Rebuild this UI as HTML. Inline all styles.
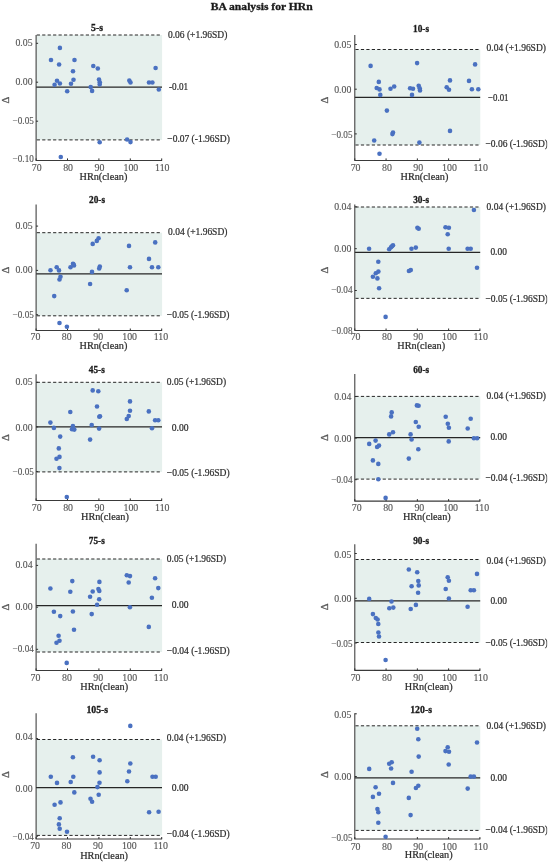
<!DOCTYPE html>
<html lang="en"><head><meta charset="utf-8"><title>BA analysis for HRn</title>
<style>html,body{margin:0;padding:0;background:#fff;overflow:hidden}svg{display:block;font-family:'Liberation Serif', 'DejaVu Serif', serif}</style></head><body>
<svg width="550" height="862" viewBox="0 0 550 862">
<rect width="550" height="862" fill="#ffffff"/>
<defs><clipPath id="rc"><rect x="0" y="0" width="547.2" height="862"/></clipPath></defs>
<text x="261.7" y="10.4" font-size="11.3" fill="#1a1a1a" stroke="#1a1a1a" stroke-width="0.3" text-anchor="middle" font-weight="bold" textLength="102" lengthAdjust="spacingAndGlyphs">BA analysis for HRn</text>
<g>
<rect x="36.1" y="35" width="126" height="104.9" fill="#e6f0ed"/>
<line x1="36.74" y1="35" x2="161.7" y2="35" stroke="#262626" stroke-width="1" stroke-dasharray="3.2 2.25"/>
<line x1="36.74" y1="139.9" x2="161.7" y2="139.9" stroke="#262626" stroke-width="1" stroke-dasharray="3.2 2.25"/>
<line x1="36.1" y1="87" x2="162" y2="87" stroke="#262626" stroke-width="1.25"/>
<path d="M36.1 35V160.4H162.1" fill="none" stroke="#3a3a3a" stroke-width="1.05"/>
<path d="M36.1 43.3h2M36.1 82.2h2M36.1 121.2h2M36.1 160.4v-2M67.5 160.4v-2M98.9 160.4v-2M130.3 160.4v-2M161.7 160.4v-2" fill="none" stroke="#2e2e2e" stroke-width="1"/>
<g fill="#4a71c1">
<circle cx="59.9" cy="47.9" r="2.3"/>
<circle cx="51" cy="60" r="2.3"/>
<circle cx="74.5" cy="60" r="2.3"/>
<circle cx="59.1" cy="64.5" r="2.3"/>
<circle cx="93.3" cy="66" r="2.3"/>
<circle cx="97.8" cy="68.5" r="2.3"/>
<circle cx="73" cy="71.2" r="2.3"/>
<circle cx="73.5" cy="79.7" r="2.3"/>
<circle cx="57" cy="80.7" r="2.3"/>
<circle cx="99" cy="79.6" r="2.3"/>
<circle cx="54.6" cy="84.8" r="2.3"/>
<circle cx="59.9" cy="83.5" r="2.3"/>
<circle cx="71" cy="83.8" r="2.3"/>
<circle cx="99.7" cy="84.4" r="2.3"/>
<circle cx="99.8" cy="82.2" r="2.3"/>
<circle cx="90.7" cy="87" r="2.3"/>
<circle cx="67.2" cy="91.2" r="2.3"/>
<circle cx="92.1" cy="90.9" r="2.3"/>
<circle cx="155.6" cy="68" r="2.3"/>
<circle cx="129.3" cy="80.6" r="2.3"/>
<circle cx="130.5" cy="82.5" r="2.3"/>
<circle cx="149" cy="82.5" r="2.3"/>
<circle cx="152.4" cy="82.5" r="2.3"/>
<circle cx="158.8" cy="89.5" r="2.3"/>
<circle cx="60.8" cy="157" r="2.3"/>
<circle cx="99.7" cy="142.3" r="2.3"/>
<circle cx="127.1" cy="139.5" r="2.3"/>
<circle cx="130.5" cy="142.1" r="2.3"/>
</g>
<text x="32.6" y="46.1" font-size="9.8" fill="#555555" stroke="#555555" stroke-width="0.12" text-anchor="end">0.05</text>
<text x="32.6" y="85.2" font-size="9.8" fill="#555555" stroke="#555555" stroke-width="0.12" text-anchor="end">0.00</text>
<text x="33.8" y="124.1" font-size="9.8" fill="#555555" stroke="#555555" stroke-width="0.12" text-anchor="end" textLength="21.2" lengthAdjust="spacingAndGlyphs">−0.05</text>
<text x="33.8" y="162.2" font-size="9.8" fill="#555555" stroke="#555555" stroke-width="0.12" text-anchor="end" textLength="21.2" lengthAdjust="spacingAndGlyphs">−0.10</text>
<text x="36.7" y="171.1" font-size="9.9" fill="#555555" stroke="#555555" stroke-width="0.12" text-anchor="middle">70</text>
<text x="68.1" y="171.1" font-size="9.9" fill="#555555" stroke="#555555" stroke-width="0.12" text-anchor="middle">80</text>
<text x="99.5" y="171.1" font-size="9.9" fill="#555555" stroke="#555555" stroke-width="0.12" text-anchor="middle">90</text>
<text x="130.9" y="171.1" font-size="9.9" fill="#555555" stroke="#555555" stroke-width="0.12" text-anchor="middle">100</text>
<text x="162.3" y="171.1" font-size="9.9" fill="#555555" stroke="#555555" stroke-width="0.12" text-anchor="middle">110</text>
<text x="79.5" y="180.2" font-size="10" fill="#2e2e2e" stroke="#2e2e2e" stroke-width="0.22" textLength="47.8" lengthAdjust="spacingAndGlyphs">HRn(clean)</text>
<text transform="translate(9.1 100) rotate(-90)" font-size="10.6" fill="#555555" stroke="#555555" stroke-width="0.3" text-anchor="middle">Δ</text>
<text x="97.1" y="31.4" font-size="10.2" fill="#1a1a1a" stroke="#1a1a1a" stroke-width="0.3" text-anchor="middle" font-weight="bold" textLength="12" lengthAdjust="spacingAndGlyphs">5-s</text>
<text x="168" y="38.1" font-size="10" fill="#2e2e2e" stroke="#2e2e2e" stroke-width="0.22" textLength="59.3" lengthAdjust="spacingAndGlyphs">0.06 (+1.96SD)</text>
<text x="169" y="90" font-size="10" fill="#2e2e2e" stroke="#2e2e2e" stroke-width="0.22" textLength="19.1" lengthAdjust="spacingAndGlyphs">-0.01</text>
<text x="167.3" y="142.2" font-size="10" fill="#2e2e2e" stroke="#2e2e2e" stroke-width="0.22" textLength="62.5" lengthAdjust="spacingAndGlyphs">−0.07 (-1.96SD)</text>
</g>
<g>
<rect x="354.8" y="49.5" width="125.5" height="95.5" fill="#e6f0ed"/>
<line x1="355.44" y1="49.5" x2="479.9" y2="49.5" stroke="#262626" stroke-width="1" stroke-dasharray="3.2 2.25"/>
<line x1="355.44" y1="145" x2="479.9" y2="145" stroke="#262626" stroke-width="1" stroke-dasharray="3.2 2.25"/>
<line x1="354.8" y1="97.3" x2="480.2" y2="97.3" stroke="#262626" stroke-width="1.25"/>
<path d="M354.8 35.1V160.4H480.3" fill="none" stroke="#3a3a3a" stroke-width="1.05"/>
<path d="M354.8 44.5h2M354.8 89.2h2M354.8 133.9h2M354.8 160.4v-2M386.07 160.4v-2M417.35 160.4v-2M448.62 160.4v-2M479.9 160.4v-2" fill="none" stroke="#2e2e2e" stroke-width="1"/>
<g fill="#4a71c1">
<circle cx="370.6" cy="65.9" r="2.3"/>
<circle cx="417.1" cy="63.1" r="2.3"/>
<circle cx="378.8" cy="81.9" r="2.3"/>
<circle cx="394.2" cy="86.5" r="2.3"/>
<circle cx="376.7" cy="88" r="2.3"/>
<circle cx="379.5" cy="89.4" r="2.3"/>
<circle cx="390.5" cy="88.8" r="2.3"/>
<circle cx="410.1" cy="88.2" r="2.3"/>
<circle cx="413" cy="88.8" r="2.3"/>
<circle cx="418.7" cy="85.7" r="2.3"/>
<circle cx="419.7" cy="88.2" r="2.3"/>
<circle cx="420" cy="90.4" r="2.3"/>
<circle cx="380.3" cy="94.9" r="2.3"/>
<circle cx="412" cy="94.9" r="2.3"/>
<circle cx="475.1" cy="64.4" r="2.3"/>
<circle cx="450" cy="80.4" r="2.3"/>
<circle cx="469" cy="80.9" r="2.3"/>
<circle cx="446.7" cy="87.3" r="2.3"/>
<circle cx="449" cy="89.8" r="2.3"/>
<circle cx="471.9" cy="89.2" r="2.3"/>
<circle cx="478.3" cy="89.2" r="2.3"/>
<circle cx="386.9" cy="110.6" r="2.3"/>
<circle cx="393" cy="132.5" r="2.3"/>
<circle cx="392.4" cy="134.1" r="2.3"/>
<circle cx="374.2" cy="140.5" r="2.3"/>
<circle cx="379.5" cy="153.7" r="2.3"/>
<circle cx="419.4" cy="142.6" r="2.3"/>
<circle cx="450" cy="130.9" r="2.3"/>
</g>
<text x="351.3" y="48.3" font-size="9.8" fill="#555555" stroke="#555555" stroke-width="0.12" text-anchor="end">0.05</text>
<text x="351.3" y="92.5" font-size="9.8" fill="#555555" stroke="#555555" stroke-width="0.12" text-anchor="end">0.00</text>
<text x="352.5" y="137.9" font-size="9.8" fill="#555555" stroke="#555555" stroke-width="0.12" text-anchor="end" textLength="21.2" lengthAdjust="spacingAndGlyphs">−0.05</text>
<text x="355.6" y="171.1" font-size="9.9" fill="#555555" stroke="#555555" stroke-width="0.12" text-anchor="middle">70</text>
<text x="386.88" y="171.1" font-size="9.9" fill="#555555" stroke="#555555" stroke-width="0.12" text-anchor="middle">80</text>
<text x="418.15" y="171.1" font-size="9.9" fill="#555555" stroke="#555555" stroke-width="0.12" text-anchor="middle">90</text>
<text x="449.43" y="171.1" font-size="9.9" fill="#555555" stroke="#555555" stroke-width="0.12" text-anchor="middle">100</text>
<text x="480.7" y="171.1" font-size="9.9" fill="#555555" stroke="#555555" stroke-width="0.12" text-anchor="middle">110</text>
<text x="400.5" y="180.2" font-size="10" fill="#2e2e2e" stroke="#2e2e2e" stroke-width="0.22" textLength="47.8" lengthAdjust="spacingAndGlyphs">HRn(clean)</text>
<text transform="translate(327.8 100) rotate(-90)" font-size="10.6" fill="#555555" stroke="#555555" stroke-width="0.3" text-anchor="middle">Δ</text>
<text x="421" y="32.2" font-size="10.2" fill="#1a1a1a" stroke="#1a1a1a" stroke-width="0.3" text-anchor="middle" font-weight="bold" textLength="16" lengthAdjust="spacingAndGlyphs">10-s</text>
<text x="486.6" y="51.4" font-size="10" fill="#2e2e2e" stroke="#2e2e2e" stroke-width="0.22" textLength="59.3" lengthAdjust="spacingAndGlyphs" clip-path="url(#rc)">0.04 (+1.96SD)</text>
<text x="488.1" y="100.6" font-size="10" fill="#2e2e2e" stroke="#2e2e2e" stroke-width="0.22" textLength="20.4" lengthAdjust="spacingAndGlyphs" clip-path="url(#rc)">−0.01</text>
<text x="485.5" y="146.9" font-size="10" fill="#2e2e2e" stroke="#2e2e2e" stroke-width="0.22" textLength="62.5" lengthAdjust="spacingAndGlyphs" clip-path="url(#rc)">−0.06 (-1.96SD)</text>
</g>
<g>
<rect x="36.1" y="232.7" width="126" height="83.1" fill="#e6f0ed"/>
<line x1="36.74" y1="232.7" x2="161.7" y2="232.7" stroke="#262626" stroke-width="1" stroke-dasharray="3.2 2.25"/>
<line x1="36.74" y1="315.8" x2="161.7" y2="315.8" stroke="#262626" stroke-width="1" stroke-dasharray="3.2 2.25"/>
<line x1="36.1" y1="273.9" x2="162" y2="273.9" stroke="#262626" stroke-width="1.25"/>
<path d="M36.1 204.5V330.5H162.1" fill="none" stroke="#3a3a3a" stroke-width="1.05"/>
<path d="M36.1 226.1h2M36.1 270.4h2M36.1 314.7h2M36.1 330.5v-2M67.5 330.5v-2M98.9 330.5v-2M130.3 330.5v-2M161.7 330.5v-2" fill="none" stroke="#2e2e2e" stroke-width="1"/>
<g fill="#4a71c1">
<circle cx="92.7" cy="243.9" r="2.3"/>
<circle cx="96.8" cy="240.9" r="2.3"/>
<circle cx="98.6" cy="238.3" r="2.3"/>
<circle cx="73" cy="263.8" r="2.3"/>
<circle cx="74" cy="265.5" r="2.3"/>
<circle cx="70.5" cy="267.2" r="2.3"/>
<circle cx="56.7" cy="267.2" r="2.3"/>
<circle cx="50.5" cy="270.3" r="2.3"/>
<circle cx="59" cy="270.4" r="2.3"/>
<circle cx="60.5" cy="276.7" r="2.3"/>
<circle cx="59.5" cy="279.5" r="2.3"/>
<circle cx="54.2" cy="296.1" r="2.3"/>
<circle cx="92" cy="271.9" r="2.3"/>
<circle cx="90.1" cy="284" r="2.3"/>
<circle cx="99.8" cy="266.5" r="2.3"/>
<circle cx="99.2" cy="268.5" r="2.3"/>
<circle cx="129" cy="245.9" r="2.3"/>
<circle cx="155.2" cy="242.4" r="2.3"/>
<circle cx="149" cy="258.9" r="2.3"/>
<circle cx="130" cy="267.2" r="2.3"/>
<circle cx="152" cy="267.2" r="2.3"/>
<circle cx="158.3" cy="267.2" r="2.3"/>
<circle cx="59.5" cy="323" r="2.3"/>
<circle cx="66.9" cy="326.8" r="2.3"/>
<circle cx="126.7" cy="290.3" r="2.3"/>
<circle cx="73.6" cy="264.6" r="2.3"/>
</g>
<text x="32.6" y="229.1" font-size="9.8" fill="#555555" stroke="#555555" stroke-width="0.12" text-anchor="end">0.05</text>
<text x="32.6" y="273.3" font-size="9.8" fill="#555555" stroke="#555555" stroke-width="0.12" text-anchor="end">0.00</text>
<text x="33.8" y="317.6" font-size="9.8" fill="#555555" stroke="#555555" stroke-width="0.12" text-anchor="end" textLength="21.2" lengthAdjust="spacingAndGlyphs">−0.05</text>
<text x="35.4" y="340.2" font-size="9.9" fill="#555555" stroke="#555555" stroke-width="0.12" text-anchor="middle">70</text>
<text x="66.8" y="340.2" font-size="9.9" fill="#555555" stroke="#555555" stroke-width="0.12" text-anchor="middle">80</text>
<text x="98.2" y="340.2" font-size="9.9" fill="#555555" stroke="#555555" stroke-width="0.12" text-anchor="middle">90</text>
<text x="129.6" y="340.2" font-size="9.9" fill="#555555" stroke="#555555" stroke-width="0.12" text-anchor="middle">100</text>
<text x="161" y="340.2" font-size="9.9" fill="#555555" stroke="#555555" stroke-width="0.12" text-anchor="middle">110</text>
<text x="79.5" y="349.1" font-size="10" fill="#2e2e2e" stroke="#2e2e2e" stroke-width="0.22" textLength="47.8" lengthAdjust="spacingAndGlyphs">HRn(clean)</text>
<text transform="translate(9.1 270) rotate(-90)" font-size="10.6" fill="#555555" stroke="#555555" stroke-width="0.3" text-anchor="middle">Δ</text>
<text x="97" y="203.35" font-size="10.2" fill="#1a1a1a" stroke="#1a1a1a" stroke-width="0.3" text-anchor="middle" font-weight="bold" textLength="16" lengthAdjust="spacingAndGlyphs">20-s</text>
<text x="168.1" y="234.6" font-size="10" fill="#2e2e2e" stroke="#2e2e2e" stroke-width="0.22" textLength="59.3" lengthAdjust="spacingAndGlyphs">0.04 (+1.96SD)</text>
<text x="166.8" y="317.7" font-size="10" fill="#2e2e2e" stroke="#2e2e2e" stroke-width="0.22" textLength="62.5" lengthAdjust="spacingAndGlyphs">−0.05 (-1.96SD)</text>
</g>
<g>
<rect x="354.8" y="207" width="125.5" height="91.35" fill="#e6f0ed"/>
<line x1="355.44" y1="207" x2="479.9" y2="207" stroke="#262626" stroke-width="1" stroke-dasharray="3.2 2.25"/>
<line x1="355.44" y1="298.35" x2="479.9" y2="298.35" stroke="#262626" stroke-width="1" stroke-dasharray="3.2 2.25"/>
<line x1="354.8" y1="252.4" x2="480.2" y2="252.4" stroke="#262626" stroke-width="1.25"/>
<path d="M354.8 204.5V330.5H480.3" fill="none" stroke="#3a3a3a" stroke-width="1.05"/>
<path d="M354.8 206.8h2M354.8 248.7h2M354.8 290.5h2M354.8 330.5v-2M386.07 330.5v-2M417.35 330.5v-2M448.62 330.5v-2M479.9 330.5v-2" fill="none" stroke="#2e2e2e" stroke-width="1"/>
<g fill="#4a71c1">
<circle cx="369.1" cy="248.7" r="2.3"/>
<circle cx="389.2" cy="249.3" r="2.3"/>
<circle cx="391" cy="247.2" r="2.3"/>
<circle cx="393" cy="245.3" r="2.3"/>
<circle cx="411.5" cy="248.7" r="2.3"/>
<circle cx="415.8" cy="247.6" r="2.3"/>
<circle cx="417.4" cy="227.8" r="2.3"/>
<circle cx="418.7" cy="228.7" r="2.3"/>
<circle cx="378.3" cy="261.8" r="2.3"/>
<circle cx="473.9" cy="210" r="2.3"/>
<circle cx="445.5" cy="227.2" r="2.3"/>
<circle cx="448.9" cy="227.8" r="2.3"/>
<circle cx="447.7" cy="234.3" r="2.3"/>
<circle cx="448.7" cy="248.7" r="2.3"/>
<circle cx="467.6" cy="248.7" r="2.3"/>
<circle cx="470.7" cy="248.7" r="2.3"/>
<circle cx="372.9" cy="276.7" r="2.3"/>
<circle cx="375.8" cy="273.3" r="2.3"/>
<circle cx="378.4" cy="271.6" r="2.3"/>
<circle cx="377.4" cy="278.4" r="2.3"/>
<circle cx="379.1" cy="288.2" r="2.3"/>
<circle cx="385.6" cy="316.9" r="2.3"/>
<circle cx="408.9" cy="271" r="2.3"/>
<circle cx="410.8" cy="270.1" r="2.3"/>
<circle cx="477" cy="267.8" r="2.3"/>
<circle cx="392" cy="246.2" r="2.3"/>
</g>
<text x="351.3" y="209.9" font-size="9.8" fill="#555555" stroke="#555555" stroke-width="0.12" text-anchor="end">0.04</text>
<text x="351.3" y="252.4" font-size="9.8" fill="#555555" stroke="#555555" stroke-width="0.12" text-anchor="end">0.00</text>
<text x="352.5" y="293.4" font-size="9.8" fill="#555555" stroke="#555555" stroke-width="0.12" text-anchor="end" textLength="21.2" lengthAdjust="spacingAndGlyphs">−0.04</text>
<text x="352.5" y="333.7" font-size="9.8" fill="#555555" stroke="#555555" stroke-width="0.12" text-anchor="end" textLength="21.2" lengthAdjust="spacingAndGlyphs">−0.08</text>
<text x="355.6" y="340.2" font-size="9.9" fill="#555555" stroke="#555555" stroke-width="0.12" text-anchor="middle">70</text>
<text x="386.88" y="340.2" font-size="9.9" fill="#555555" stroke="#555555" stroke-width="0.12" text-anchor="middle">80</text>
<text x="418.15" y="340.2" font-size="9.9" fill="#555555" stroke="#555555" stroke-width="0.12" text-anchor="middle">90</text>
<text x="449.43" y="340.2" font-size="9.9" fill="#555555" stroke="#555555" stroke-width="0.12" text-anchor="middle">100</text>
<text x="480.7" y="340.2" font-size="9.9" fill="#555555" stroke="#555555" stroke-width="0.12" text-anchor="middle">110</text>
<text x="397.3" y="349" font-size="10" fill="#2e2e2e" stroke="#2e2e2e" stroke-width="0.22" textLength="47.8" lengthAdjust="spacingAndGlyphs">HRn(clean)</text>
<text transform="translate(327.8 270) rotate(-90)" font-size="10.6" fill="#555555" stroke="#555555" stroke-width="0.3" text-anchor="middle">Δ</text>
<text x="421.2" y="203.35" font-size="10.2" fill="#1a1a1a" stroke="#1a1a1a" stroke-width="0.3" text-anchor="middle" font-weight="bold" textLength="16" lengthAdjust="spacingAndGlyphs">30-s</text>
<text x="486.6" y="210.1" font-size="10" fill="#2e2e2e" stroke="#2e2e2e" stroke-width="0.22" textLength="59.3" lengthAdjust="spacingAndGlyphs" clip-path="url(#rc)">0.04 (+1.96SD)</text>
<text x="490.4" y="254.6" font-size="10" fill="#2e2e2e" stroke="#2e2e2e" stroke-width="0.22" textLength="16.5" lengthAdjust="spacingAndGlyphs" clip-path="url(#rc)">0.00</text>
<text x="485.5" y="302.4" font-size="10" fill="#2e2e2e" stroke="#2e2e2e" stroke-width="0.22" textLength="62.5" lengthAdjust="spacingAndGlyphs" clip-path="url(#rc)">−0.05 (-1.96SD)</text>
</g>
<g>
<rect x="36.1" y="382.3" width="126" height="89.6" fill="#e6f0ed"/>
<line x1="36.74" y1="382.3" x2="161.7" y2="382.3" stroke="#262626" stroke-width="1" stroke-dasharray="3.2 2.25"/>
<line x1="36.74" y1="471.9" x2="161.7" y2="471.9" stroke="#262626" stroke-width="1" stroke-dasharray="3.2 2.25"/>
<line x1="36.1" y1="426.9" x2="162" y2="426.9" stroke="#262626" stroke-width="1.25"/>
<path d="M36.1 374.2V500.4H162.1" fill="none" stroke="#3a3a3a" stroke-width="1.05"/>
<path d="M36.1 382.3h2M36.1 426.9h2M36.1 471.6h2M36.1 500.4v-2M67.5 500.4v-2M98.9 500.4v-2M130.3 500.4v-2M161.7 500.4v-2" fill="none" stroke="#2e2e2e" stroke-width="1"/>
<g fill="#4a71c1">
<circle cx="50.4" cy="422.6" r="2.3"/>
<circle cx="53.9" cy="427.9" r="2.3"/>
<circle cx="60.2" cy="436.6" r="2.3"/>
<circle cx="70.3" cy="412" r="2.3"/>
<circle cx="72.9" cy="426" r="2.3"/>
<circle cx="72" cy="429.2" r="2.3"/>
<circle cx="74.3" cy="429.6" r="2.3"/>
<circle cx="92.7" cy="390.4" r="2.3"/>
<circle cx="98.3" cy="391.3" r="2.3"/>
<circle cx="97" cy="406.5" r="2.3"/>
<circle cx="99.3" cy="416.7" r="2.3"/>
<circle cx="100" cy="416.2" r="2.3"/>
<circle cx="91.7" cy="425" r="2.3"/>
<circle cx="99.1" cy="428.6" r="2.3"/>
<circle cx="90.1" cy="439.6" r="2.3"/>
<circle cx="130" cy="401.4" r="2.3"/>
<circle cx="130" cy="410.7" r="2.3"/>
<circle cx="128.7" cy="416.1" r="2.3"/>
<circle cx="126.8" cy="419" r="2.3"/>
<circle cx="148.8" cy="411.4" r="2.3"/>
<circle cx="155.1" cy="420.3" r="2.3"/>
<circle cx="158.3" cy="420.3" r="2.3"/>
<circle cx="152" cy="428.3" r="2.3"/>
<circle cx="58.8" cy="448.4" r="2.3"/>
<circle cx="59.5" cy="456.9" r="2.3"/>
<circle cx="56.5" cy="458.8" r="2.3"/>
<circle cx="59.4" cy="468.1" r="2.3"/>
<circle cx="66.8" cy="497" r="2.3"/>
</g>
<text x="32.6" y="385" font-size="9.8" fill="#555555" stroke="#555555" stroke-width="0.12" text-anchor="end">0.05</text>
<text x="32.6" y="430.8" font-size="9.8" fill="#555555" stroke="#555555" stroke-width="0.12" text-anchor="end">0.00</text>
<text x="33.8" y="475.1" font-size="9.8" fill="#555555" stroke="#555555" stroke-width="0.12" text-anchor="end" textLength="21.2" lengthAdjust="spacingAndGlyphs">−0.05</text>
<text x="36.7" y="511.3" font-size="9.9" fill="#555555" stroke="#555555" stroke-width="0.12" text-anchor="middle">70</text>
<text x="68.1" y="511.3" font-size="9.9" fill="#555555" stroke="#555555" stroke-width="0.12" text-anchor="middle">80</text>
<text x="99.5" y="511.3" font-size="9.9" fill="#555555" stroke="#555555" stroke-width="0.12" text-anchor="middle">90</text>
<text x="130.9" y="511.3" font-size="9.9" fill="#555555" stroke="#555555" stroke-width="0.12" text-anchor="middle">100</text>
<text x="162.3" y="511.3" font-size="9.9" fill="#555555" stroke="#555555" stroke-width="0.12" text-anchor="middle">110</text>
<text x="81" y="519.8" font-size="10" fill="#2e2e2e" stroke="#2e2e2e" stroke-width="0.22" textLength="47.8" lengthAdjust="spacingAndGlyphs">HRn(clean)</text>
<text transform="translate(9.1 437.7) rotate(-90)" font-size="10.6" fill="#555555" stroke="#555555" stroke-width="0.3" text-anchor="middle">Δ</text>
<text x="96.8" y="373.4" font-size="10.2" fill="#1a1a1a" stroke="#1a1a1a" stroke-width="0.3" text-anchor="middle" font-weight="bold" textLength="16" lengthAdjust="spacingAndGlyphs">45-s</text>
<text x="166.8" y="384.5" font-size="10" fill="#2e2e2e" stroke="#2e2e2e" stroke-width="0.22" textLength="59.3" lengthAdjust="spacingAndGlyphs">0.05 (+1.96SD)</text>
<text x="171.7" y="430.5" font-size="10" fill="#2e2e2e" stroke="#2e2e2e" stroke-width="0.22" textLength="16.8" lengthAdjust="spacingAndGlyphs">0.00</text>
<text x="166.8" y="476.3" font-size="10" fill="#2e2e2e" stroke="#2e2e2e" stroke-width="0.22" textLength="62.9" lengthAdjust="spacingAndGlyphs">−0.05 (-1.96SD)</text>
</g>
<g>
<rect x="354.8" y="396.4" width="125.5" height="82.7" fill="#e6f0ed"/>
<line x1="355.44" y1="396.4" x2="479.9" y2="396.4" stroke="#262626" stroke-width="1" stroke-dasharray="3.2 2.25"/>
<line x1="355.44" y1="479.1" x2="479.9" y2="479.1" stroke="#262626" stroke-width="1" stroke-dasharray="3.2 2.25"/>
<line x1="354.8" y1="437.65" x2="480.2" y2="437.65" stroke="#262626" stroke-width="1.25"/>
<path d="M354.8 374.05V501.1H480.3" fill="none" stroke="#3a3a3a" stroke-width="1.05"/>
<path d="M354.8 396.5h2M354.8 438.1h2M354.8 479.7h2M354.8 501.1v-2M386.07 501.1v-2M417.35 501.1v-2M448.62 501.1v-2M479.9 501.1v-2" fill="none" stroke="#2e2e2e" stroke-width="1"/>
<g fill="#4a71c1">
<circle cx="391.7" cy="412.4" r="2.3"/>
<circle cx="391.1" cy="416.4" r="2.3"/>
<circle cx="416.9" cy="405.4" r="2.3"/>
<circle cx="418.6" cy="405.7" r="2.3"/>
<circle cx="415.8" cy="422" r="2.3"/>
<circle cx="418.7" cy="426.7" r="2.3"/>
<circle cx="393" cy="432.3" r="2.3"/>
<circle cx="389.2" cy="434.4" r="2.3"/>
<circle cx="410.6" cy="434.4" r="2.3"/>
<circle cx="411.6" cy="439.5" r="2.3"/>
<circle cx="375.6" cy="440.6" r="2.3"/>
<circle cx="369.2" cy="443.9" r="2.3"/>
<circle cx="379" cy="445.6" r="2.3"/>
<circle cx="377.1" cy="447" r="2.3"/>
<circle cx="418.3" cy="449.3" r="2.3"/>
<circle cx="445.7" cy="416.8" r="2.3"/>
<circle cx="447.8" cy="423.8" r="2.3"/>
<circle cx="448.9" cy="427.8" r="2.3"/>
<circle cx="448.7" cy="441.4" r="2.3"/>
<circle cx="470.7" cy="418.7" r="2.3"/>
<circle cx="467.7" cy="428.5" r="2.3"/>
<circle cx="473.9" cy="438.2" r="2.3"/>
<circle cx="477.1" cy="438.2" r="2.3"/>
<circle cx="372.9" cy="460.4" r="2.3"/>
<circle cx="378.3" cy="463.9" r="2.3"/>
<circle cx="408.8" cy="458.6" r="2.3"/>
<circle cx="378.3" cy="479.2" r="2.3"/>
<circle cx="385.6" cy="497.9" r="2.3"/>
</g>
<text x="351.3" y="399.5" font-size="9.8" fill="#555555" stroke="#555555" stroke-width="0.12" text-anchor="end">0.04</text>
<text x="351.3" y="442.2" font-size="9.8" fill="#555555" stroke="#555555" stroke-width="0.12" text-anchor="end">0.00</text>
<text x="352.5" y="483.4" font-size="9.8" fill="#555555" stroke="#555555" stroke-width="0.12" text-anchor="end" textLength="21.2" lengthAdjust="spacingAndGlyphs">−0.04</text>
<text x="356.8" y="510.9" font-size="9.9" fill="#555555" stroke="#555555" stroke-width="0.12" text-anchor="middle">70</text>
<text x="388.07" y="510.9" font-size="9.9" fill="#555555" stroke="#555555" stroke-width="0.12" text-anchor="middle">80</text>
<text x="419.35" y="510.9" font-size="9.9" fill="#555555" stroke="#555555" stroke-width="0.12" text-anchor="middle">90</text>
<text x="450.62" y="510.9" font-size="9.9" fill="#555555" stroke="#555555" stroke-width="0.12" text-anchor="middle">100</text>
<text x="481.9" y="510.9" font-size="9.9" fill="#555555" stroke="#555555" stroke-width="0.12" text-anchor="middle">110</text>
<text x="402.9" y="519.65" font-size="10" fill="#2e2e2e" stroke="#2e2e2e" stroke-width="0.22" textLength="47.8" lengthAdjust="spacingAndGlyphs">HRn(clean)</text>
<text transform="translate(327.8 437.7) rotate(-90)" font-size="10.6" fill="#555555" stroke="#555555" stroke-width="0.3" text-anchor="middle">Δ</text>
<text x="421.2" y="373.4" font-size="10.2" fill="#1a1a1a" stroke="#1a1a1a" stroke-width="0.3" text-anchor="middle" font-weight="bold" textLength="16" lengthAdjust="spacingAndGlyphs">60-s</text>
<text x="486.6" y="399.3" font-size="10" fill="#2e2e2e" stroke="#2e2e2e" stroke-width="0.22" textLength="59.3" lengthAdjust="spacingAndGlyphs" clip-path="url(#rc)">0.04 (+1.96SD)</text>
<text x="490.4" y="439.6" font-size="10" fill="#2e2e2e" stroke="#2e2e2e" stroke-width="0.22" textLength="16.5" lengthAdjust="spacingAndGlyphs" clip-path="url(#rc)">0.00</text>
<text x="485.5" y="480.8" font-size="10" fill="#2e2e2e" stroke="#2e2e2e" stroke-width="0.22" textLength="62.5" lengthAdjust="spacingAndGlyphs" clip-path="url(#rc)">−0.04 (-1.96SD)</text>
</g>
<g>
<rect x="36.1" y="559" width="126" height="93" fill="#e6f0ed"/>
<line x1="36.74" y1="559" x2="161.7" y2="559" stroke="#262626" stroke-width="1" stroke-dasharray="3.2 2.25"/>
<line x1="36.74" y1="652" x2="161.7" y2="652" stroke="#262626" stroke-width="1" stroke-dasharray="3.2 2.25"/>
<line x1="36.1" y1="605.5" x2="162" y2="605.5" stroke="#262626" stroke-width="1.25"/>
<path d="M36.1 543.8V670.4H162.1" fill="none" stroke="#3a3a3a" stroke-width="1.05"/>
<path d="M36.1 565.4h2M36.1 607.2h2M36.1 649.3h2M36.1 670.4v-2M67.5 670.4v-2M98.9 670.4v-2M130.3 670.4v-2M161.7 670.4v-2" fill="none" stroke="#2e2e2e" stroke-width="1"/>
<g fill="#4a71c1">
<circle cx="50.4" cy="588.5" r="2.3"/>
<circle cx="72.3" cy="581.1" r="2.3"/>
<circle cx="70.3" cy="591.7" r="2.3"/>
<circle cx="92.7" cy="591.5" r="2.3"/>
<circle cx="90.1" cy="596.8" r="2.3"/>
<circle cx="99.4" cy="581.9" r="2.3"/>
<circle cx="98.4" cy="589" r="2.3"/>
<circle cx="99.3" cy="590.9" r="2.3"/>
<circle cx="99.2" cy="599.2" r="2.3"/>
<circle cx="97.1" cy="604.8" r="2.3"/>
<circle cx="126.8" cy="575.3" r="2.3"/>
<circle cx="130" cy="576.1" r="2.3"/>
<circle cx="128.7" cy="582.5" r="2.3"/>
<circle cx="155.1" cy="578.2" r="2.3"/>
<circle cx="158.3" cy="588.1" r="2.3"/>
<circle cx="151.9" cy="597.7" r="2.3"/>
<circle cx="129.9" cy="607.3" r="2.3"/>
<circle cx="53.9" cy="611.7" r="2.3"/>
<circle cx="60.2" cy="616.1" r="2.3"/>
<circle cx="72.9" cy="611.5" r="2.3"/>
<circle cx="91.7" cy="614.1" r="2.3"/>
<circle cx="74" cy="629.7" r="2.3"/>
<circle cx="58.6" cy="635.7" r="2.3"/>
<circle cx="59.5" cy="640.8" r="2.3"/>
<circle cx="56.5" cy="642.8" r="2.3"/>
<circle cx="66.7" cy="662.9" r="2.3"/>
<circle cx="148.8" cy="626.9" r="2.3"/>
</g>
<text x="32.6" y="568.4" font-size="9.8" fill="#555555" stroke="#555555" stroke-width="0.12" text-anchor="end">0.04</text>
<text x="32.6" y="610.3" font-size="9.8" fill="#555555" stroke="#555555" stroke-width="0.12" text-anchor="end">0.00</text>
<text x="33.8" y="652.1" font-size="9.8" fill="#555555" stroke="#555555" stroke-width="0.12" text-anchor="end" textLength="21.2" lengthAdjust="spacingAndGlyphs">−0.04</text>
<text x="35.5" y="680.8" font-size="9.9" fill="#555555" stroke="#555555" stroke-width="0.12" text-anchor="middle">70</text>
<text x="66.9" y="680.8" font-size="9.9" fill="#555555" stroke="#555555" stroke-width="0.12" text-anchor="middle">80</text>
<text x="98.3" y="680.8" font-size="9.9" fill="#555555" stroke="#555555" stroke-width="0.12" text-anchor="middle">90</text>
<text x="129.7" y="680.8" font-size="9.9" fill="#555555" stroke="#555555" stroke-width="0.12" text-anchor="middle">100</text>
<text x="161.1" y="680.8" font-size="9.9" fill="#555555" stroke="#555555" stroke-width="0.12" text-anchor="middle">110</text>
<text x="80.3" y="689.6" font-size="10" fill="#2e2e2e" stroke="#2e2e2e" stroke-width="0.22" textLength="47.8" lengthAdjust="spacingAndGlyphs">HRn(clean)</text>
<text transform="translate(9.1 607) rotate(-90)" font-size="10.6" fill="#555555" stroke="#555555" stroke-width="0.3" text-anchor="middle">Δ</text>
<text x="96.8" y="543.6" font-size="10.2" fill="#1a1a1a" stroke="#1a1a1a" stroke-width="0.3" text-anchor="middle" font-weight="bold" textLength="16" lengthAdjust="spacingAndGlyphs">75-s</text>
<text x="166.8" y="561.8" font-size="10" fill="#2e2e2e" stroke="#2e2e2e" stroke-width="0.22" textLength="59.3" lengthAdjust="spacingAndGlyphs">0.05 (+1.96SD)</text>
<text x="171.7" y="608.2" font-size="10" fill="#2e2e2e" stroke="#2e2e2e" stroke-width="0.22" textLength="16.8" lengthAdjust="spacingAndGlyphs">0.00</text>
<text x="166.8" y="653.6" font-size="10" fill="#2e2e2e" stroke="#2e2e2e" stroke-width="0.22" textLength="62.9" lengthAdjust="spacingAndGlyphs">−0.04 (-1.96SD)</text>
</g>
<g>
<rect x="354.8" y="559.5" width="125.5" height="83" fill="#e6f0ed"/>
<line x1="355.44" y1="559.5" x2="479.9" y2="559.5" stroke="#262626" stroke-width="1" stroke-dasharray="3.2 2.25"/>
<line x1="355.44" y1="642.5" x2="479.9" y2="642.5" stroke="#262626" stroke-width="1" stroke-dasharray="3.2 2.25"/>
<line x1="354.8" y1="600.9" x2="480.2" y2="600.9" stroke="#262626" stroke-width="1.25"/>
<path d="M354.8 544.3V670.35H480.3" fill="none" stroke="#3a3a3a" stroke-width="1.05"/>
<path d="M354.8 553.5h2M354.8 598.3h2M354.8 643h2M354.8 670.35v-2M386.07 670.35v-2M417.35 670.35v-2M448.62 670.35v-2M479.9 670.35v-2" fill="none" stroke="#2e2e2e" stroke-width="1"/>
<g fill="#4a71c1">
<circle cx="408.8" cy="569.5" r="2.3"/>
<circle cx="417.2" cy="572.2" r="2.3"/>
<circle cx="418.3" cy="581" r="2.3"/>
<circle cx="411.6" cy="586.2" r="2.3"/>
<circle cx="418.7" cy="585.4" r="2.3"/>
<circle cx="418.1" cy="592.8" r="2.3"/>
<circle cx="369.2" cy="598.9" r="2.3"/>
<circle cx="391.5" cy="601.5" r="2.3"/>
<circle cx="415.9" cy="604.9" r="2.3"/>
<circle cx="393.3" cy="607.6" r="2.3"/>
<circle cx="389.3" cy="608.3" r="2.3"/>
<circle cx="410.7" cy="609" r="2.3"/>
<circle cx="447.7" cy="577.2" r="2.3"/>
<circle cx="448.9" cy="580.7" r="2.3"/>
<circle cx="445.7" cy="589" r="2.3"/>
<circle cx="448.9" cy="598.5" r="2.3"/>
<circle cx="477" cy="573.9" r="2.3"/>
<circle cx="470.7" cy="590.3" r="2.3"/>
<circle cx="473.9" cy="590.3" r="2.3"/>
<circle cx="467.6" cy="606.8" r="2.3"/>
<circle cx="372.9" cy="614.1" r="2.3"/>
<circle cx="375.8" cy="618" r="2.3"/>
<circle cx="377.6" cy="619.5" r="2.3"/>
<circle cx="378.3" cy="624" r="2.3"/>
<circle cx="378.4" cy="632.5" r="2.3"/>
<circle cx="379" cy="636.5" r="2.3"/>
<circle cx="385.6" cy="660" r="2.3"/>
</g>
<text x="351.3" y="557.7" font-size="9.8" fill="#555555" stroke="#555555" stroke-width="0.12" text-anchor="end">0.05</text>
<text x="351.3" y="601.7" font-size="9.8" fill="#555555" stroke="#555555" stroke-width="0.12" text-anchor="end">0.00</text>
<text x="352.5" y="647" font-size="9.8" fill="#555555" stroke="#555555" stroke-width="0.12" text-anchor="end" textLength="21.2" lengthAdjust="spacingAndGlyphs">−0.05</text>
<text x="355.6" y="680.75" font-size="9.9" fill="#555555" stroke="#555555" stroke-width="0.12" text-anchor="middle">70</text>
<text x="386.88" y="680.75" font-size="9.9" fill="#555555" stroke="#555555" stroke-width="0.12" text-anchor="middle">80</text>
<text x="418.15" y="680.75" font-size="9.9" fill="#555555" stroke="#555555" stroke-width="0.12" text-anchor="middle">90</text>
<text x="449.43" y="680.75" font-size="9.9" fill="#555555" stroke="#555555" stroke-width="0.12" text-anchor="middle">100</text>
<text x="480.7" y="680.75" font-size="9.9" fill="#555555" stroke="#555555" stroke-width="0.12" text-anchor="middle">110</text>
<text x="404.8" y="689.65" font-size="10" fill="#2e2e2e" stroke="#2e2e2e" stroke-width="0.22" textLength="47.8" lengthAdjust="spacingAndGlyphs">HRn(clean)</text>
<text transform="translate(327.8 606.9) rotate(-90)" font-size="10.6" fill="#555555" stroke="#555555" stroke-width="0.3" text-anchor="middle">Δ</text>
<text x="421.2" y="543.6" font-size="10.2" fill="#1a1a1a" stroke="#1a1a1a" stroke-width="0.3" text-anchor="middle" font-weight="bold" textLength="16" lengthAdjust="spacingAndGlyphs">90-s</text>
<text x="486.6" y="563.6" font-size="10" fill="#2e2e2e" stroke="#2e2e2e" stroke-width="0.22" textLength="59.3" lengthAdjust="spacingAndGlyphs" clip-path="url(#rc)">0.04 (+1.96SD)</text>
<text x="490.4" y="604.3" font-size="10" fill="#2e2e2e" stroke="#2e2e2e" stroke-width="0.22" textLength="16.5" lengthAdjust="spacingAndGlyphs" clip-path="url(#rc)">0.00</text>
<text x="485.5" y="645.8" font-size="10" fill="#2e2e2e" stroke="#2e2e2e" stroke-width="0.22" textLength="62.5" lengthAdjust="spacingAndGlyphs" clip-path="url(#rc)">−0.05 (-1.96SD)</text>
</g>
<g>
<rect x="36.1" y="739.5" width="126" height="95.9" fill="#e6f0ed"/>
<line x1="36.74" y1="739.5" x2="161.7" y2="739.5" stroke="#262626" stroke-width="1" stroke-dasharray="3.2 2.25"/>
<line x1="36.74" y1="835.4" x2="161.7" y2="835.4" stroke="#262626" stroke-width="1" stroke-dasharray="3.2 2.25"/>
<line x1="36.1" y1="787.6" x2="162" y2="787.6" stroke="#262626" stroke-width="1.25"/>
<path d="M36.1 713.2V839H162.1" fill="none" stroke="#3a3a3a" stroke-width="1.05"/>
<path d="M36.1 738.6h2M36.1 787.5h2M36.1 836.2h2M36.1 839v-2M67.5 839v-2M98.9 839v-2M130.3 839v-2M161.7 839v-2" fill="none" stroke="#2e2e2e" stroke-width="1"/>
<g fill="#4a71c1">
<circle cx="72.9" cy="757.3" r="2.3"/>
<circle cx="93.1" cy="756.7" r="2.3"/>
<circle cx="99.6" cy="760.3" r="2.3"/>
<circle cx="99.6" cy="772.4" r="2.3"/>
<circle cx="50.8" cy="776.8" r="2.3"/>
<circle cx="73.3" cy="776.7" r="2.3"/>
<circle cx="130.3" cy="725.9" r="2.3"/>
<circle cx="130.3" cy="763.5" r="2.3"/>
<circle cx="129" cy="771.5" r="2.3"/>
<circle cx="152.5" cy="776.7" r="2.3"/>
<circle cx="155.7" cy="776.7" r="2.3"/>
<circle cx="127.3" cy="781.2" r="2.3"/>
<circle cx="57" cy="782.9" r="2.3"/>
<circle cx="70.7" cy="782" r="2.3"/>
<circle cx="99.5" cy="782.8" r="2.3"/>
<circle cx="97.5" cy="787.1" r="2.3"/>
<circle cx="74.3" cy="792.4" r="2.3"/>
<circle cx="98.7" cy="794.7" r="2.3"/>
<circle cx="90.5" cy="798.8" r="2.3"/>
<circle cx="92.1" cy="801.7" r="2.3"/>
<circle cx="60.5" cy="802.4" r="2.3"/>
<circle cx="54.6" cy="804.7" r="2.3"/>
<circle cx="59.7" cy="818.3" r="2.3"/>
<circle cx="58.9" cy="824.4" r="2.3"/>
<circle cx="59.7" cy="828.8" r="2.3"/>
<circle cx="67" cy="831.8" r="2.3"/>
<circle cx="149.1" cy="812.2" r="2.3"/>
<circle cx="158.6" cy="811.7" r="2.3"/>
</g>
<text x="32.6" y="740.2" font-size="9.8" fill="#555555" stroke="#555555" stroke-width="0.12" text-anchor="end">0.04</text>
<text x="32.6" y="791.9" font-size="9.8" fill="#555555" stroke="#555555" stroke-width="0.12" text-anchor="end">0.00</text>
<text x="33.8" y="840.1" font-size="9.8" fill="#555555" stroke="#555555" stroke-width="0.12" text-anchor="end" textLength="21.2" lengthAdjust="spacingAndGlyphs">−0.04</text>
<text x="35.1" y="849.4" font-size="9.9" fill="#555555" stroke="#555555" stroke-width="0.12" text-anchor="middle">70</text>
<text x="66.5" y="849.4" font-size="9.9" fill="#555555" stroke="#555555" stroke-width="0.12" text-anchor="middle">80</text>
<text x="97.9" y="849.4" font-size="9.9" fill="#555555" stroke="#555555" stroke-width="0.12" text-anchor="middle">90</text>
<text x="129.3" y="849.4" font-size="9.9" fill="#555555" stroke="#555555" stroke-width="0.12" text-anchor="middle">100</text>
<text x="160.7" y="849.4" font-size="9.9" fill="#555555" stroke="#555555" stroke-width="0.12" text-anchor="middle">110</text>
<text x="80.2" y="858.6" font-size="10" fill="#2e2e2e" stroke="#2e2e2e" stroke-width="0.22" textLength="47.8" lengthAdjust="spacingAndGlyphs">HRn(clean)</text>
<text transform="translate(9.1 774.7) rotate(-90)" font-size="10.6" fill="#555555" stroke="#555555" stroke-width="0.3" text-anchor="middle">Δ</text>
<text x="97.3" y="712.9" font-size="10.2" fill="#1a1a1a" stroke="#1a1a1a" stroke-width="0.3" text-anchor="middle" font-weight="bold" textLength="21.8" lengthAdjust="spacingAndGlyphs">105-s</text>
<text x="166.8" y="741.4" font-size="10" fill="#2e2e2e" stroke="#2e2e2e" stroke-width="0.22" textLength="59.3" lengthAdjust="spacingAndGlyphs">0.04 (+1.96SD)</text>
<text x="171.7" y="791.4" font-size="10" fill="#2e2e2e" stroke="#2e2e2e" stroke-width="0.22" textLength="16.8" lengthAdjust="spacingAndGlyphs">0.00</text>
<text x="166.8" y="836.8" font-size="10" fill="#2e2e2e" stroke="#2e2e2e" stroke-width="0.22" textLength="62.9" lengthAdjust="spacingAndGlyphs">−0.04 (-1.96SD)</text>
</g>
<g>
<rect x="354.8" y="725.8" width="125.5" height="104.6" fill="#e6f0ed"/>
<line x1="355.44" y1="725.8" x2="479.9" y2="725.8" stroke="#262626" stroke-width="1" stroke-dasharray="3.2 2.25"/>
<line x1="355.44" y1="830.4" x2="479.9" y2="830.4" stroke="#262626" stroke-width="1" stroke-dasharray="3.2 2.25"/>
<line x1="354.8" y1="777.9" x2="480.2" y2="777.9" stroke="#262626" stroke-width="1.25"/>
<path d="M354.8 713.3V839.05H480.3" fill="none" stroke="#3a3a3a" stroke-width="1.05"/>
<path d="M354.8 713.8h2M354.8 776.5h2M354.8 839.05v-2M386.07 839.05v-2M417.35 839.05v-2M448.62 839.05v-2M479.9 839.05v-2" fill="none" stroke="#2e2e2e" stroke-width="1"/>
<g fill="#4a71c1">
<circle cx="417.2" cy="728.7" r="2.3"/>
<circle cx="418.3" cy="739.3" r="2.3"/>
<circle cx="418.7" cy="756.6" r="2.3"/>
<circle cx="391.7" cy="762.2" r="2.3"/>
<circle cx="389.2" cy="763.7" r="2.3"/>
<circle cx="391.1" cy="768.5" r="2.3"/>
<circle cx="369.2" cy="768.9" r="2.3"/>
<circle cx="411.6" cy="771.7" r="2.3"/>
<circle cx="447.7" cy="747.2" r="2.3"/>
<circle cx="445.5" cy="751.1" r="2.3"/>
<circle cx="449" cy="751.7" r="2.3"/>
<circle cx="448.7" cy="764.5" r="2.3"/>
<circle cx="477" cy="742.5" r="2.3"/>
<circle cx="470.7" cy="776.6" r="2.3"/>
<circle cx="473.9" cy="776.6" r="2.3"/>
<circle cx="393" cy="782.9" r="2.3"/>
<circle cx="375.6" cy="787.3" r="2.3"/>
<circle cx="379" cy="793.7" r="2.3"/>
<circle cx="372.9" cy="796.9" r="2.3"/>
<circle cx="408.8" cy="797.9" r="2.3"/>
<circle cx="415.9" cy="788" r="2.3"/>
<circle cx="418.3" cy="785.8" r="2.3"/>
<circle cx="377.4" cy="809" r="2.3"/>
<circle cx="378.3" cy="812.3" r="2.3"/>
<circle cx="410.6" cy="815.1" r="2.3"/>
<circle cx="378.3" cy="822.7" r="2.3"/>
<circle cx="385.6" cy="836.7" r="2.3"/>
<circle cx="467.7" cy="788.6" r="2.3"/>
</g>
<text x="351.3" y="718" font-size="9.8" fill="#555555" stroke="#555555" stroke-width="0.12" text-anchor="end">0.05</text>
<text x="351.3" y="779.9" font-size="9.8" fill="#555555" stroke="#555555" stroke-width="0.12" text-anchor="end">0.00</text>
<text x="352.5" y="840.6" font-size="9.8" fill="#555555" stroke="#555555" stroke-width="0.12" text-anchor="end" textLength="21.2" lengthAdjust="spacingAndGlyphs">−0.05</text>
<text x="355.6" y="849.75" font-size="9.9" fill="#555555" stroke="#555555" stroke-width="0.12" text-anchor="middle">70</text>
<text x="386.88" y="849.75" font-size="9.9" fill="#555555" stroke="#555555" stroke-width="0.12" text-anchor="middle">80</text>
<text x="418.15" y="849.75" font-size="9.9" fill="#555555" stroke="#555555" stroke-width="0.12" text-anchor="middle">90</text>
<text x="449.43" y="849.75" font-size="9.9" fill="#555555" stroke="#555555" stroke-width="0.12" text-anchor="middle">100</text>
<text x="480.7" y="849.75" font-size="9.9" fill="#555555" stroke="#555555" stroke-width="0.12" text-anchor="middle">110</text>
<text x="404.8" y="858.45" font-size="10" fill="#2e2e2e" stroke="#2e2e2e" stroke-width="0.22" textLength="47.8" lengthAdjust="spacingAndGlyphs">HRn(clean)</text>
<text transform="translate(327.8 774.7) rotate(-90)" font-size="10.6" fill="#555555" stroke="#555555" stroke-width="0.3" text-anchor="middle">Δ</text>
<text x="421.1" y="712.9" font-size="10.2" fill="#1a1a1a" stroke="#1a1a1a" stroke-width="0.3" text-anchor="middle" font-weight="bold" textLength="21.8" lengthAdjust="spacingAndGlyphs">120-s</text>
<text x="486.6" y="728.6" font-size="10" fill="#2e2e2e" stroke="#2e2e2e" stroke-width="0.22" textLength="59.3" lengthAdjust="spacingAndGlyphs" clip-path="url(#rc)">0.04 (+1.96SD)</text>
<text x="490.4" y="780.6" font-size="10" fill="#2e2e2e" stroke="#2e2e2e" stroke-width="0.22" textLength="16.5" lengthAdjust="spacingAndGlyphs" clip-path="url(#rc)">0.00</text>
<text x="485.5" y="832.7" font-size="10" fill="#2e2e2e" stroke="#2e2e2e" stroke-width="0.22" textLength="62.5" lengthAdjust="spacingAndGlyphs" clip-path="url(#rc)">−0.04 (-1.96SD)</text>
</g>
</svg></body></html>
